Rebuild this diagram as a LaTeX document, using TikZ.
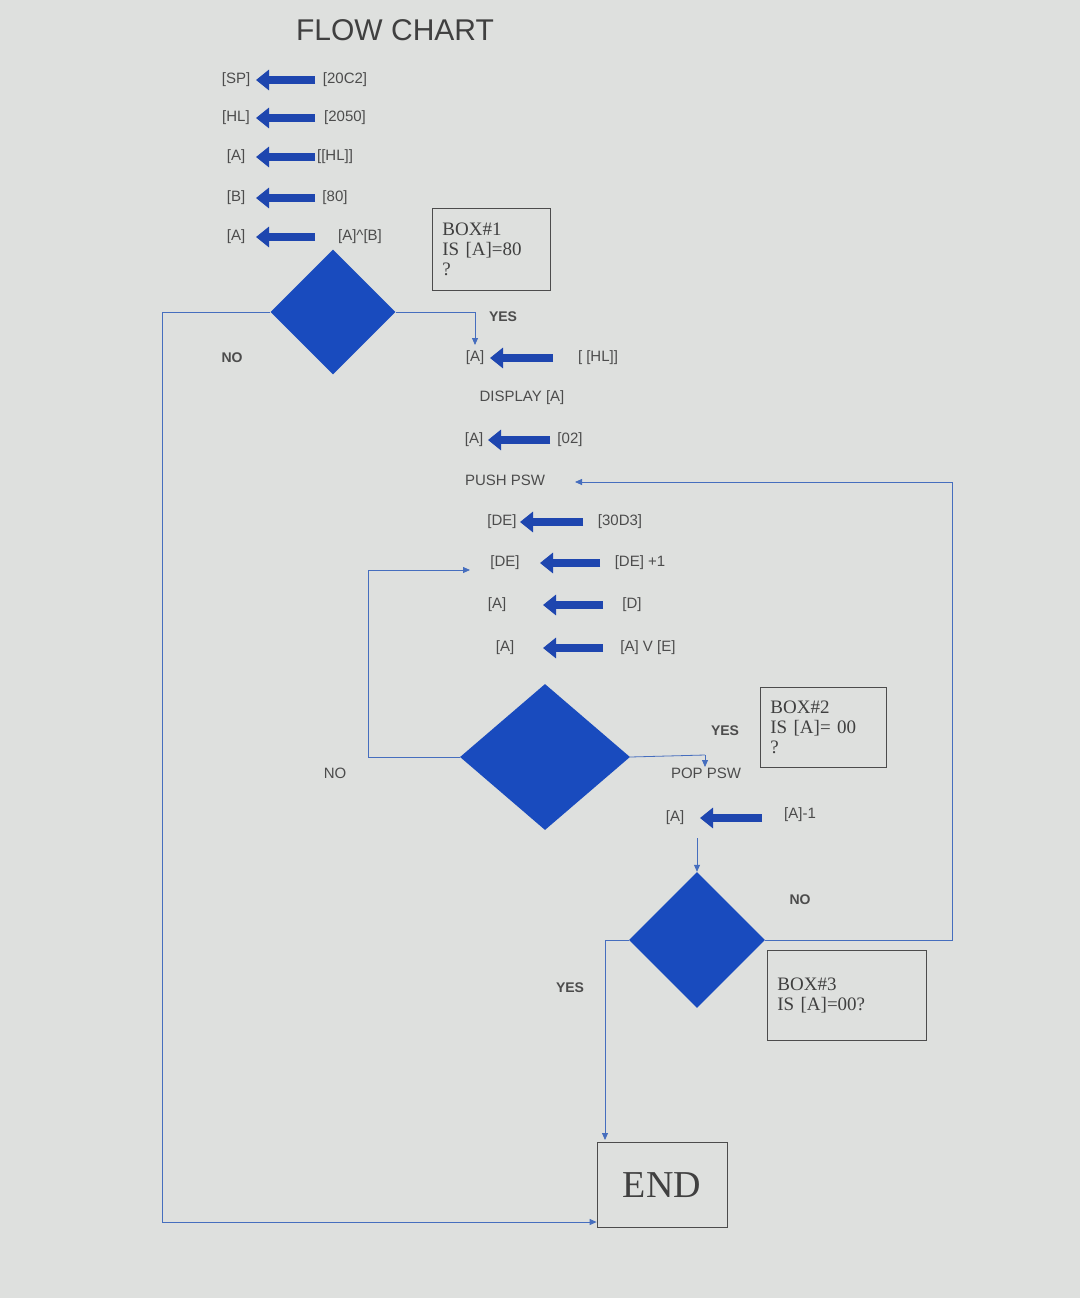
\documentclass[tikz,border=0pt]{standalone}
\usepackage{fontspec}
\setmainfont{Liberation Sans}
\newfontfamily\serifz{Liberation Serif}
\usetikzlibrary{arrows.meta,shapes.geometric}
\definecolor{bl}{RGB}{30,70,175}
\definecolor{dm}{RGB}{25,75,190}
\definecolor{ln}{RGB}{70,110,190}
\definecolor{bg}{RGB}{222,224,222}
\begin{document}
\begin{tikzpicture}[x=1pt,y=-1pt,
 lbl/.style={font=\fontsize{15}{17}\selectfont,text=black!70,inner sep=0},
 barr/.style={bl,line width=8pt,-{Triangle[length=13pt,width=20pt]}},
 dia/.style={diamond,fill=dm,draw=none,minimum width=#1,minimum height=#1,inner sep=0},
 bx/.style={draw=black!70,line width=0.8pt,font=\serifz\fontsize{19}{20}\selectfont,text=black!75,align=left,anchor=north west,inner xsep=10pt,inner ysep=6pt},
 conn/.style={ln,line width=0.8pt},
 carr/.style={ln,line width=0.8pt,-{Triangle[length=7pt,width=6pt]}}]
\fill[bg] (0,0) rectangle (1080,1298);
\node[font=\fontsize{30}{32}\selectfont,text=black!75] (title) at (395,30) {FLOW CHART};
% top rows
\foreach \y/\l/\r/\rx [count=\i] in {80/[SP]/[20C2]/345,118/[HL]/[2050]/345,157/[A]/[[HL]]/335,198/[B]/[80]/335,237/[A]/[A]\^{}[B]/360}{
 \node[lbl] (l\i) at (236,\y) {\l};
 \node[lbl] (r\i) at (\rx,\y) {\r};
 \draw[barr] (315,\y) -- (256,\y);
}
\node[bx,text width=98pt,minimum height=82pt] (box1) at (432,208) {BOX\#1\\IS [A]=80\\?};
\node[dia=125pt] (d1) at (333,312) {};
\node[lbl,font=\bfseries\fontsize{14}{16}\selectfont] (no1) at (232,358) {NO};
\node[lbl,font=\bfseries\fontsize{14}{16}\selectfont] (yes1) at (503,317) {YES};
\coordinate (a1) at (475,312);
\coordinate (a2) at (475,345);
\draw[conn] (d1.east) -- (a1);
\draw[carr] (a1) -- (a2);
% middle column
\node[lbl] (m1l) at (475,358) {[A]}; \draw[barr] (553,358) -- (490,358); \node[lbl] (m1r) at (598,358) {[ [HL]]};
\node[lbl] (disp) at (522,398) {DISPLAY [A]};
\node[lbl] (m2l) at (474,440) {[A]}; \draw[barr] (550,440) -- (488,440); \node[lbl] (m2r) at (570,440) {[02]};
\node[lbl] (push) at (505,480) {PUSH PSW};
\node[lbl] (m3l) at (502,522) {[DE]}; \draw[barr] (583,522) -- (520,522); \node[lbl] (m3r) at (620,522) {[30D3]};
\node[lbl] (m4l) at (505,563) {[DE]}; \draw[barr] (600,563) -- (540,563); \node[lbl] (m4r) at (640,563) {[DE] +1};
\node[lbl] (m5l) at (497,605) {[A]}; \draw[barr] (603,605) -- (543,605); \node[lbl] (m5r) at (632,605) {[D]};
\node[lbl] (m6l) at (505,648) {[A]}; \draw[barr] (603,648) -- (543,648); \node[lbl] (m6r) at (648,648) {[A] V [E]};
% diamond 2
\node[diamond,fill=dm,minimum width=170pt,minimum height=146pt,inner sep=0,aspect=1.16] (d2) at (545,757) {};
\coordinate (n1) at (368,757); \coordinate (n2) at (368,570); \coordinate (n3) at (470,570);
\draw[conn] (d2.west) -- (n1) -- (n2);
\draw[carr] (n2) -- (n3);
\node[lbl] (no2) at (335,773) {NO};
\coordinate (y1) at (705,755); \coordinate (y2) at (705,767);
\draw[conn] (d2.east) -- (y1); \draw[carr] (y1) -- (y2);
\node[lbl,font=\bfseries\fontsize{14}{16}\selectfont] (yes2) at (725,731) {YES};
\node[bx,text width=106pt,minimum height=80pt] (box2) at (760,687) {BOX\#2\\IS [A]= 00\\?};
\node[lbl] (pop) at (706,773) {POP PSW};
\node[lbl] (m7l) at (675,818) {[A]}; \draw[barr] (762,818) -- (700,818); \node[lbl] (m7r) at (800,815) {[A]-1};
% diamond 3
\node[dia=136pt] (d3) at (697,940) {};
\coordinate (t1) at (697,838);
\draw[carr] (t1) -- (d3.north);
\coordinate (k1) at (952,940); \coordinate (k2) at (952,482); \coordinate (k3) at (575,482);
\draw[conn] (d3.east) -- (k1) -- (k2); \draw[carr] (k2) -- (k3);
\node[lbl,font=\bfseries\fontsize{14}{16}\selectfont] (no3) at (800,900) {NO};
\node[bx,text width=139pt,minimum height=90pt] (box3) at (767,950) {BOX\#3\\IS [A]=00?};
\node[draw=black!70,line width=0.8pt,minimum width=130pt,minimum height=85pt,font=\serifz\fontsize{38}{40}\selectfont,text=black!75] (end) at (662,1185) {END};
\coordinate (e1) at (605,940); \coordinate (e2) at (605,1140);
\draw[conn] (d3.west) -- (e1); \draw[carr] (e1) -- (e2);
\node[lbl,font=\bfseries\fontsize{14}{16}\selectfont] (yes3) at (570,988) {YES};
% big left loop
\coordinate (b1) at (162,312); \coordinate (b2) at (162,1222);
\draw[conn] (d1.west) -- (b1) -- (b2); \draw[carr] (b2) -- (end.west |- b2);
\end{tikzpicture}
\end{document}
